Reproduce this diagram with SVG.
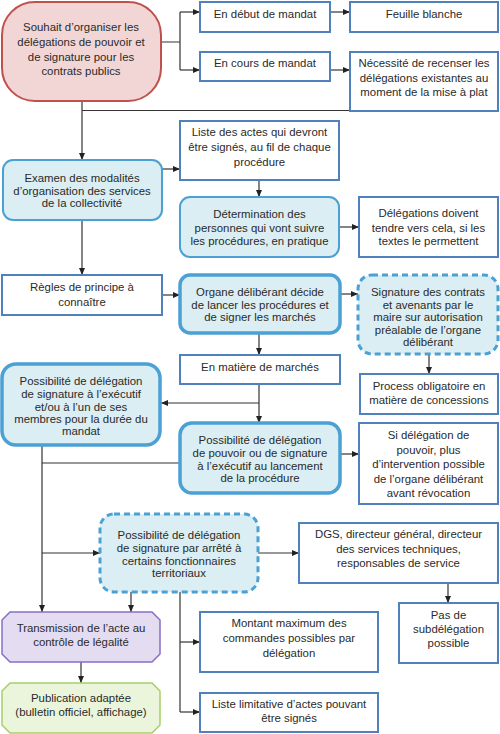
<svg xmlns="http://www.w3.org/2000/svg" width="500" height="734" viewBox="0 0 500 734">
<defs>
<marker id="ah" markerWidth="7" markerHeight="6" refX="7" refY="3" orient="auto" markerUnits="userSpaceOnUse">
<path d="M0,0 L7,3 L0,6 Z" fill="#222"/>
</marker>
</defs>
<style>
text{font-family:"Liberation Sans",Arial,sans-serif;font-size:11.4px;fill:#2a2a2a;text-anchor:middle}
.w{fill:#fff;stroke:#4f81bd;stroke-width:2}
.b{fill:#daeef3;stroke:#4ba0d4;stroke-width:2}
.bt{fill:#daeef3;stroke:#4ba0d4;stroke-width:3.5}
.bd{fill:#daeef3;stroke:#4ba0d4;stroke-width:3;stroke-dasharray:6 4}
.c{fill:none;stroke:#333;stroke-width:1.2}
.a{marker-end:url(#ah)}
</style>
<rect width="500" height="734" fill="#fff"/>
<g id="connectors">
<path class="c" d="M161 42 H180 M180 12 V70"/>
<path class="c a" d="M180 12 H200"/>
<path class="c a" d="M180 70 H200"/>
<path class="c a" d="M330 12 H350"/>
<path class="c a" d="M330 70 H350"/>
<path class="c a" d="M82 101 V160"/>
<path class="c" d="M350 110.5 H82"/>
<path class="c a" d="M162 169 H180"/>
<path class="c a" d="M259 180 V197"/>
<path class="c a" d="M339 227 H359"/>
<path class="c a" d="M82 220 V275"/>
<path class="c a" d="M162 295 H180"/>
<path class="c a" d="M340 294 H358"/>
<path class="c a" d="M429 354 V374"/>
<path class="c a" d="M259 333 V355"/>
<path class="c a" d="M259 384 V423"/>
<path class="c a" d="M259 403 H161"/>
<path class="c a" d="M340 454 H359"/>
<path class="c a" d="M42 445 V612"/>
<path class="c" d="M180 463 H42"/>
<path class="c a" d="M42 553 H100"/>
<path class="c a" d="M258 553 H299"/>
<path class="c a" d="M448 583 V603"/>
<path class="c a" d="M131 592 V612"/>
<path class="c" d="M180 592 V712"/>
<path class="c a" d="M180 642 H200"/>
<path class="c a" d="M180 712 H200"/>
<path class="c a" d="M81 662 V683"/>
</g>
<g id="n1">
<rect x="2" y="2" width="159" height="99" rx="33" ry="33" fill="#f2d6d6" stroke="#c0504d" stroke-width="2"/>
<text x="81" y="31">Souhait d’organiser les</text>
<text x="81" y="46">délégations de pouvoir et</text>
<text x="81" y="61">de signature pour les</text>
<text x="81" y="75">contrats publics</text>
</g>
<g id="n2">
<rect class="w" x="200" y="2" width="130" height="30"/>
<text x="265" y="18">En début de mandat</text>
</g>
<g id="n3">
<rect class="w" x="350" y="2" width="148" height="30"/>
<text x="424" y="18">Feuille blanche</text>
</g>
<g id="n4">
<rect class="w" x="200" y="52" width="130" height="29"/>
<text x="265" y="67">En cours de mandat</text>
</g>
<g id="n5">
<rect class="w" x="350" y="52" width="148" height="59"/>
<text x="424" y="67">Nécessité de recenser les</text>
<text x="424" y="82">délégations existantes au</text>
<text x="424" y="96">moment de la mise à plat</text>
</g>
<g id="n6">
<rect class="w" x="180" y="121" width="159" height="59"/>
<text x="259.5" y="136">Liste des actes qui devront</text>
<text x="259.5" y="151">être signés, au fil de chaque</text>
<text x="259.5" y="166">procédure</text>
</g>
<g id="n7">
<rect class="b" x="3" y="160" width="159" height="60" rx="10"/>
<text x="82" y="182">Examen des modalités</text>
<text x="82" y="195">d’organisation des services</text>
<text x="82" y="207">de la collectivité</text>
</g>
<g id="n8">
<rect class="b" x="180" y="197" width="159" height="60" rx="10"/>
<text x="259.5" y="218">Détermination des</text>
<text x="259.5" y="232">personnes qui vont suivre</text>
<text x="259.5" y="245">les procédures, en pratique</text>
</g>
<g id="n9">
<rect class="w" x="359" y="197" width="139" height="60"/>
<text x="428.5" y="216.5">Délégations doivent</text>
<text x="428.5" y="231.5">tendre vers cela, si les</text>
<text x="428.5" y="245">textes le permettent</text>
</g>
<g id="n10">
<rect class="w" x="2" y="275" width="160" height="40"/>
<text x="82" y="291">Règles de principe à</text>
<text x="82" y="306">connaître</text>
</g>
<g id="n11">
<rect class="bt" x="180" y="275" width="160" height="58" rx="10"/>
<text x="260" y="296">Organe délibérant décide</text>
<text x="260" y="309">de lancer les procédures et</text>
<text x="260" y="321">de signer les marchés</text>
</g>
<g id="n12">
<rect class="bd" x="358" y="275" width="140" height="79" rx="14"/>
<text x="428" y="296">Signature des contrats</text>
<text x="428" y="309">et avenants par le</text>
<text x="428" y="321">maire sur autorisation</text>
<text x="428" y="333.5">préalable de l’organe</text>
<text x="428" y="346">délibérant</text>
</g>
<g id="n13">
<rect class="w" x="180" y="355" width="160" height="29"/>
<text x="260" y="371">En matière de marchés</text>
</g>
<g id="n14">
<rect class="w" x="360" y="374" width="138" height="40"/>
<text x="429" y="390">Process obligatoire en</text>
<text x="429" y="404">matière de concessions</text>
</g>
<g id="n15">
<rect class="bt" x="2" y="364" width="158" height="81" rx="14"/>
<text x="81" y="385">Possibilité de délégation</text>
<text x="81" y="398">de signature à l’exécutif</text>
<text x="81" y="411">et/ou à l’un de ses</text>
<text x="81" y="423">membres pour la durée du</text>
<text x="81" y="435">mandat</text>
</g>
<g id="n16">
<rect class="bt" x="180" y="423" width="160" height="70" rx="12"/>
<text x="260" y="444">Possibilité de délégation</text>
<text x="260" y="457">de pouvoir ou de signature</text>
<text x="260" y="470">à l’exécutif au lancement</text>
<text x="260" y="482">de la procédure</text>
</g>
<g id="n17">
<rect class="w" x="359" y="423" width="139" height="81"/>
<text x="428.5" y="439">Si délégation de</text>
<text x="428.5" y="454">pouvoir, plus</text>
<text x="428.5" y="468">d’intervention possible</text>
<text x="428.5" y="482.5">de l’organe délibérant</text>
<text x="428.5" y="497">avant révocation</text>
</g>
<g id="n18">
<rect class="bd" x="100" y="514" width="158" height="78" rx="14"/>
<text x="179" y="539">Possibilité de délégation</text>
<text x="179" y="552">de signature par arrêté à</text>
<text x="179" y="565">certains fonctionnaires</text>
<text x="179" y="577">territoriaux</text>
</g>
<g id="n19">
<rect class="w" x="299" y="523" width="199" height="60"/>
<text x="398.5" y="538">DGS, directeur général, directeur</text>
<text x="398.5" y="553">des services techniques,</text>
<text x="398.5" y="567">responsables de service</text>
</g>
<g id="n20">
<rect class="w" x="399" y="603" width="99" height="60"/>
<text x="448.5" y="619">Pas de</text>
<text x="448.5" y="633">subdélégation</text>
<text x="448.5" y="647">possible</text>
</g>
<g id="n21">
<rect class="w" x="200" y="612" width="178" height="60"/>
<text x="289" y="627">Montant maximum des</text>
<text x="289" y="642">commandes possibles par</text>
<text x="289" y="657">délégation</text>
</g>
<g id="n22">
<rect class="w" x="200" y="693" width="178" height="39"/>
<text x="289" y="708">Liste limitative d’actes pouvant</text>
<text x="289" y="722">être signés</text>
</g>
<g id="n23">
<polygon points="10,612 152,612 160,620 160,654 152,662 10,662 2,654 2,620" fill="#e4dcf0" stroke="#8a6cc7" stroke-width="1.5"/>
<text x="81" y="632">Transmission de l’acte au</text>
<text x="81" y="646">contrôle de légalité</text>
</g>
<g id="n24">
<polygon points="10,683 152,683 160,691 160,725 152,733 10,733 2,725 2,691" fill="#ebf5dc" stroke="#a6cf6b" stroke-width="1.5"/>
<text x="81" y="702">Publication adaptée</text>
<text x="81" y="716">(bulletin officiel, affichage)</text>
</g>
</svg>
